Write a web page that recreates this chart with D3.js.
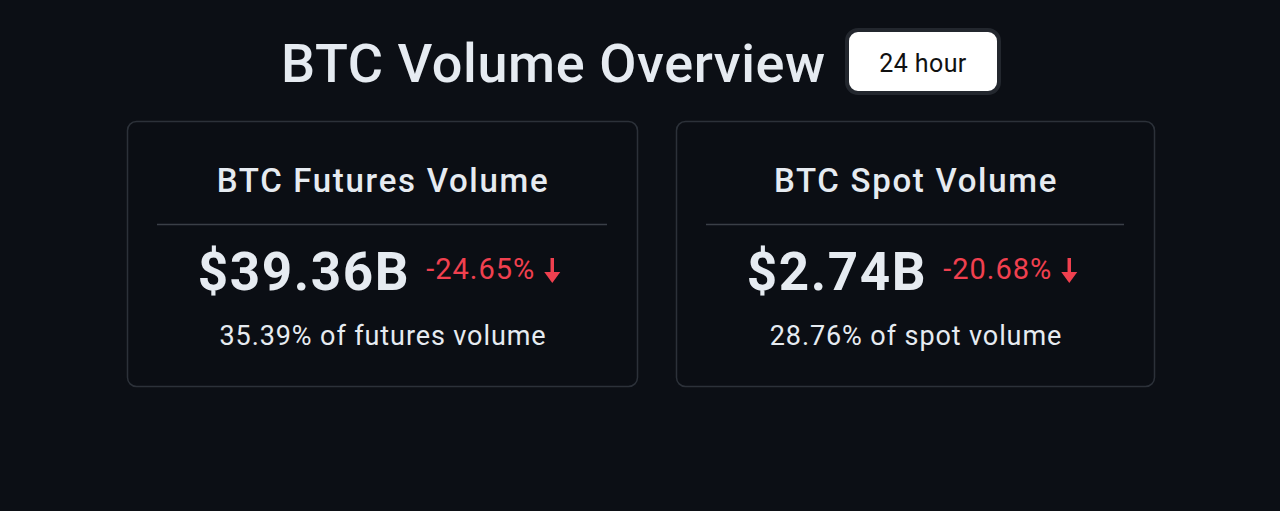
<!DOCTYPE html>
<html>
<head>
<meta charset="utf-8">
<script src="https://cdn.jsdelivr.net/npm/d3@7"></script>
<style>
  html, body { margin: 0; padding: 0; background: #0c0f15; }
  svg { display: block; font-family: Roboto, "Noto Sans", sans-serif; }
</style>
</head>
<body>
<div id="chart"></div>
<script>
// data
const pageTitle = "BTC Volume Overview";
const periodLabel = "24 hour";
const cardTitles = ["BTC Futures Volume", "BTC Spot Volume"];
const volumes = [39.36, 2.74];          // billions USD
const changes = [-24.65, -20.68];       // % change
const shares = [35.39, 28.76];          // % of market volume
const shareLabels = ["futures", "spot"];

// layout
const svgWidth = 1280;
const svgHeight = 511;
const cardEdges = [[127, 637], [676, 1154]];
const cardTop = 121;
const cardBottom = 386;

const textColor = "#e6ebf1";
const red = "#f0404f";

let svg = d3.select("#chart").append("svg")
    .attr("width", svgWidth)
    .attr("height", svgHeight);

svg.append("rect")
    .attr("width", svgWidth)
    .attr("height", svgHeight)
    .attr("fill", "#0c0f15");

// title + period button
svg.append("text")
    .attr("x", 281)
    .attr("y", 82)
    .attr("fill", textColor)
    .style("font-size", "54px")
    .style("font-weight", 500)
    .style("letter-spacing", "0.6px")
    .text(pageTitle);

svg.append("rect")
    .attr("x", 847)
    .attr("y", 30)
    .attr("width", 152)
    .attr("height", 63)
    .attr("rx", 11)
    .attr("fill", "#ffffff")
    .attr("stroke", "#23272e")
    .attr("stroke-width", 4);

svg.append("text")
    .attr("x", 923)
    .attr("y", 72)
    .attr("text-anchor", "middle")
    .attr("fill", "#111")
    .style("font-size", "25px")
    .style("letter-spacing", "0.4px")
    .text(periodLabel);

// cards
const fmtVol = d => "$" + d.toFixed(2) + "B";
const fmtPct = d => d.toFixed(2) + "%";   // keeps a plain hyphen for negatives

const cards = svg.selectAll("g.card")
    .data(cardTitles.map((t, i) => ({ title: t, vol: volumes[i], chg: changes[i], share: shares[i], label: shareLabels[i], edge: cardEdges[i] })))
    .enter()
    .append("g")
    .attr("class", "card");

cards.append("rect")
    .attr("x", d => d.edge[0] + 0.5)
    .attr("y", cardTop + 0.5)
    .attr("width", d => d.edge[1] - d.edge[0])
    .attr("height", cardBottom - cardTop)
    .attr("rx", 9)
    .attr("fill", "#0b0e14")
    .attr("stroke", "#2c3139")
    .attr("stroke-width", 1.5);

cards.append("text")
    .attr("x", d => (d.edge[0] + d.edge[1]) / 2 + 1)
    .attr("y", 192)
    .attr("text-anchor", "middle")
    .attr("fill", textColor)
    .style("font-size", "33px")
    .style("font-weight", 500)
    .style("letter-spacing", "1.7px")
    .text(d => d.title);

cards.append("line")
    .attr("x1", d => d.edge[0] + 30)
    .attr("x2", d => d.edge[1] - 30)
    .attr("y1", 224.5)
    .attr("y2", 224.5)
    .attr("stroke", "#3a3f47")
    .attr("stroke-width", 1.5);

cards.append("text")
    .attr("x", d => (d.edge[0] + d.edge[1]) / 2 + 1)
    .attr("y", 345)
    .attr("text-anchor", "middle")
    .attr("fill", textColor)
    .style("font-size", "27px")
    .style("letter-spacing", "0.9px")
    .text(d => fmtPct(d.share) + " of " + d.label + " volume");

// value row: big number, change, arrow; centred as a group
cards.each(function (d) {
    const g = d3.select(this);
    const row = g.append("g");
    const big = row.append("text")
        .attr("y", 290)
        .attr("fill", textColor)
        .style("font-size", "53px")
        .style("font-weight", 700)
        .style("letter-spacing", "1.6px")
        .text(fmtVol(d.vol));
    const bw = big.node().getComputedTextLength();
    const chg = row.append("text")
        .attr("x", bw + 16)
        .attr("y", 279)
        .attr("fill", red)
        .style("font-size", "29px")
        .style("letter-spacing", "1px")
        .text(fmtPct(d.chg));
    const cw = chg.node().getComputedTextLength();
    const ax = bw + 16 + cw + 17;
    row.append("path")
        .attr("d", `M${ax},258 V275`)
        .attr("stroke", red)
        .attr("stroke-width", 3.5);
    row.append("path")
        .attr("d", `M${ax - 8},272 L${ax},283 L${ax + 8},272 Z`)
        .attr("fill", red);
    const total = ax + 8;
    const cx = (d.edge[0] + d.edge[1]) / 2 - 3;
    row.attr("transform", `translate(${cx - total / 2},0)`);
});
</script>
</body>
</html>
